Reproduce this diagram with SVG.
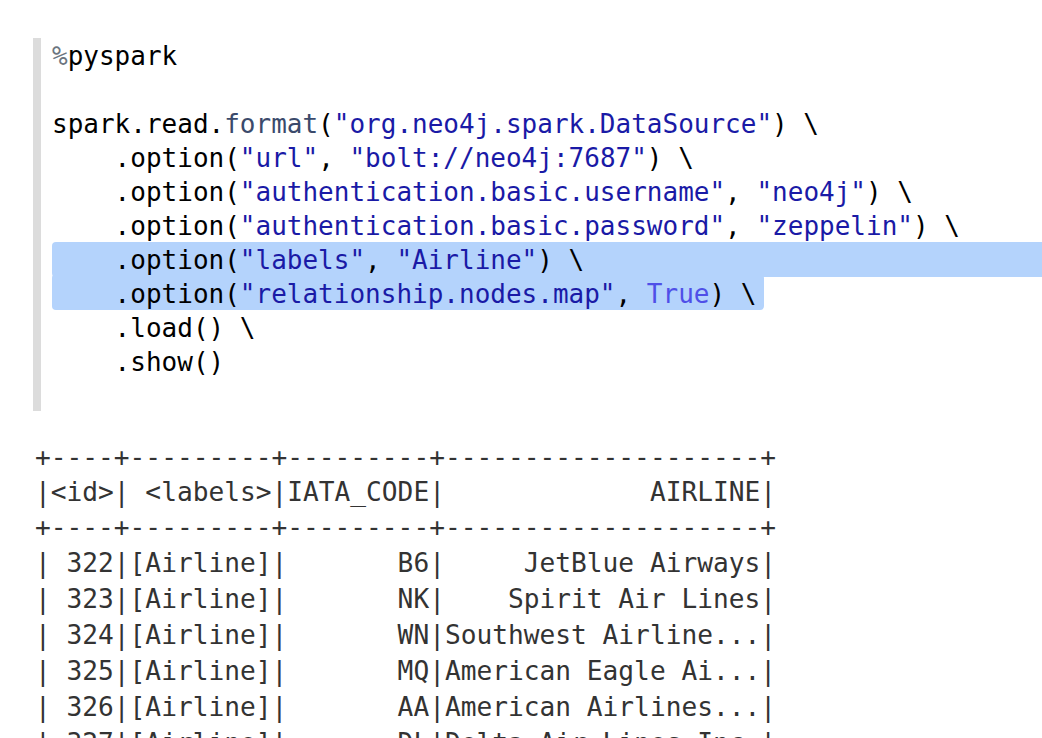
<svg xmlns="http://www.w3.org/2000/svg" width="1042" height="738" viewBox="0 0 1042 738">
<style>
text{font-family:"DejaVu Sans Mono","Liberation Mono",monospace;font-size:26px;white-space:pre;fill:#000}
.s{fill:#1a1aa6}.f{fill:#3b4a6b}.k{fill:#4f4fe8}.g{fill:#6c7680}
.t{fill:#333;font-size:26.2px}
</style>
<rect width="1042" height="738" fill="#fff"/>
<g id="code">
<rect x="33" y="38" width="8" height="373" fill="#dcdcdc"/>
<rect x="52" y="242" width="1000" height="35" rx="4" fill="#b4d3fc"/>
<rect x="52" y="274" width="712" height="36" rx="4" fill="#b4d3fc"/>
<text x="52" y="65" xml:space="preserve"><tspan class="g">%</tspan>pyspark</text>
<text x="52" y="133" xml:space="preserve">spark.read.<tspan class="f">format</tspan>(<tspan class="s">"org.neo4j.spark.DataSource"</tspan>) \</text>
<text x="52" y="167" xml:space="preserve">    .option(<tspan class="s">"url"</tspan>, <tspan class="s">"bolt://neo4j:7687"</tspan>) \</text>
<text x="52" y="201" xml:space="preserve">    .option(<tspan class="s">"authentication.basic.username"</tspan>, <tspan class="s">"neo4j"</tspan>) \</text>
<text x="52" y="235" xml:space="preserve">    .option(<tspan class="s">"authentication.basic.password"</tspan>, <tspan class="s">"zeppelin"</tspan>) \</text>
<text x="52" y="269" xml:space="preserve">    .option(<tspan class="s">"labels"</tspan>, <tspan class="s">"Airline"</tspan>) \</text>
<text x="52" y="303" xml:space="preserve">    .option(<tspan class="s">"relationship.nodes.map"</tspan>, <tspan class="k">True</tspan>) \</text>
<text x="52" y="337" xml:space="preserve">    .load() \</text>
<text x="52" y="371" xml:space="preserve">    .show()</text>
</g>
<g id="table">
<text class="t" x="35" y="466" xml:space="preserve">+----+---------+---------+--------------------+</text>
<text class="t" x="35" y="501" xml:space="preserve">|&lt;id&gt;| &lt;labels&gt;|IATA_CODE|             AIRLINE|</text>
<text class="t" x="35" y="536" xml:space="preserve">+----+---------+---------+--------------------+</text>
<text class="t" x="35" y="572" xml:space="preserve">| 322|[Airline]|       B6|     JetBlue Airways|</text>
<text class="t" x="35" y="608" xml:space="preserve">| 323|[Airline]|       NK|    Spirit Air Lines|</text>
<text class="t" x="35" y="644" xml:space="preserve">| 324|[Airline]|       WN|Southwest Airline...|</text>
<text class="t" x="35" y="680" xml:space="preserve">| 325|[Airline]|       MQ|American Eagle Ai...|</text>
<text class="t" x="35" y="716" xml:space="preserve">| 326|[Airline]|       AA|American Airlines...|</text>
<text class="t" x="35" y="752" xml:space="preserve">| 327|[Airline]|       DL|Delta Air Lines Inc.|</text>
</g>
</svg>
